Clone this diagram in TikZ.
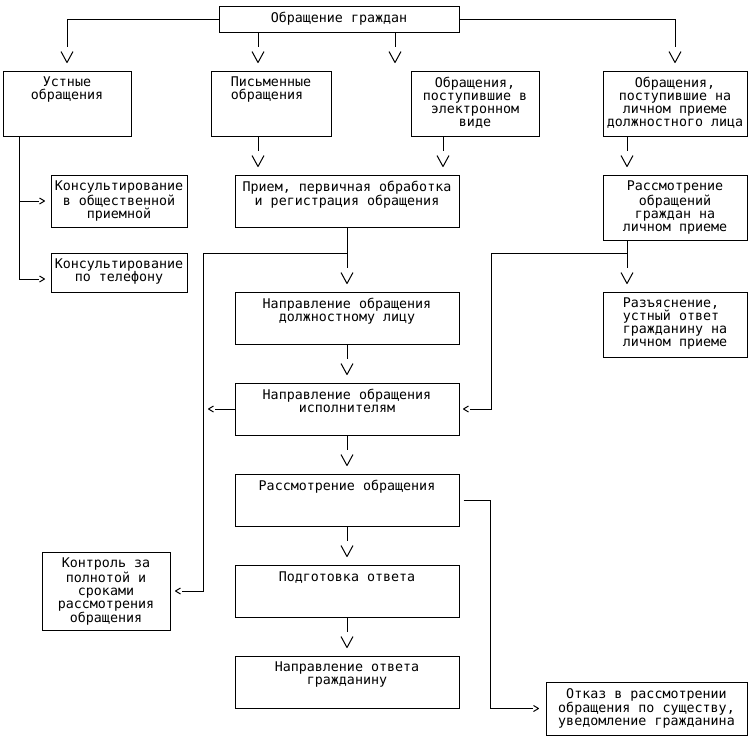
\documentclass[tikz,border=0pt]{standalone}
\usepackage{fontspec}
\newfontfamily\monof{DejaVu Sans Mono}
\usetikzlibrary{fit,calc,arrows.meta}
\pgfdeclarearrow{
  name = GapV,
  setup code = {
    \pgfarrowssettipend{0pt}
    \pgfarrowssetlineend{-12pt}
    \pgfarrowssetvisualbackend{-8.25pt}
    \pgfarrowssetbackend{-12pt}
    \pgfarrowshullpoint{0pt}{0pt}
    \pgfarrowsupperhullpoint{-8.25pt}{4.5pt}
  },
  drawing code = {
    \pgfsetdash{}{0pt}
    \pgfsetroundjoin
    \pgfpathmoveto{\pgfqpoint{-8.25pt}{4.5pt}}
    \pgfpathlineto{\pgfqpoint{0pt}{0pt}}
    \pgfpathlineto{\pgfqpoint{-8.25pt}{-4.5pt}}
    \pgfusepathqstroke
  },
  parameters = {},
}
\pgfdeclarearrow{
  name = GapH,
  setup code = {
    \pgfarrowssettipend{0pt}
    \pgfarrowssetlineend{-4.5pt}
    \pgfarrowssetvisualbackend{-3.75pt}
    \pgfarrowssetbackend{-4.5pt}
    \pgfarrowshullpoint{0pt}{0pt}
    \pgfarrowsupperhullpoint{-3.75pt}{2.25pt}
  },
  drawing code = {
    \pgfsetdash{}{0pt}
    \pgfsetroundjoin
    \pgfpathmoveto{\pgfqpoint{-3.75pt}{2.25pt}}
    \pgfpathlineto{\pgfqpoint{0pt}{0pt}}
    \pgfpathlineto{\pgfqpoint{-3.75pt}{-2.25pt}}
    \pgfusepathqstroke
  },
  parameters = {},
}
\tikzset{
  box/.style={draw=black, line width=0.75pt, inner sep=0pt},
  txt/.style={anchor=north, inner sep=0pt, align=center, yshift=-4.75pt,
    font=\monof\fontsize{10pt}{9.75pt}\selectfont,
    execute at begin node={\rule{0pt}{8pt}}},
  conn/.style={line width=0.75pt, draw=black},
  va/.style={conn, -{GapV}, shorten >=6pt},
  ha/.style={conn, -{GapH}},
}
\begin{document}
\begin{tikzpicture}[x=0.75pt,y=-0.75pt]
\useasboundingbox (0,0) rectangle (754,740);
% boxes
\node[box, fit={(219,6) (459,32)}] (top) {};
\node[box, fit={(3,71) (131,136)}] (oral) {};
\node[box, fit={(211,71) (331,136)}] (pis) {};
\node[box, fit={(411,71) (539,136)}] (el) {};
\node[box, fit={(603,71) (747,136)}] (lich) {};
\node[box, fit={(51,175) (187,227)}] (kons1) {};
\node[box, fit={(51,253) (187,292)}] (kons2) {};
\node[box, fit={(235,175) (459,227)}] (priem) {};
\node[box, fit={(603,175) (747,240)}] (rassml) {};
\node[box, fit={(603,292) (747,357)}] (razj) {};
\node[box, fit={(235,292) (459,344)}] (dolzh) {};
\node[box, fit={(235,383) (459,435)}] (isp) {};
\node[box, fit={(235,474) (459,526)}] (rassm) {};
\node[box, fit={(235,565) (459,617)}] (podg) {};
\node[box, fit={(235,656) (459,708)}] (napr) {};
\node[box, fit={(42,552) (170,630)}] (kontr) {};
\node[box, fit={(546,682) (747,735)}] (otkaz) {};
% texts
\node[txt] (topT) at (top.north) {Обращение граждан};
\node[txt] (oralT) at (oral.north) {Устные\\обращения};
\node[txt, align=left] (pisT) at (pis.north) {Письменные\\обращения};
\node[txt] (elT) at (el.north) {Обращения,\\поступившие в\\электронном\\виде};
\node[txt] (lichT) at (lich.north) {Обращения,\\поступившие на\\личном приеме\\должностного лица};
\node[txt] (kons1T) at (kons1.north) {Консультирование\\в общественной\\приемной};
\node[txt] (kons2T) at (kons2.north) {Консультирование\\по телефону};
\node[txt] (priemT) at (priem.north) {Прием, первичная обработка\\и регистрация обращения};
\node[txt] (rassmlT) at (rassml.north) {Рассмотрение\\обращений\\граждан на\\личном приеме};
\node[txt, align=left] (razjT) at (razj.north) {Разъяснение,\\устный ответ\\гражданину на\\личном приеме};
\node[txt] (dolzhT) at (dolzh.north) {Направление обращения\\должностному лицу};
\node[txt] (ispT) at (isp.north) {Направление обращения\\исполнителям};
\node[txt] (rassmT) at (rassm.north) {Рассмотрение обращения};
\node[txt] (podgT) at (podg.north) {Подготовка ответа};
\node[txt] (naprT) at (napr.north) {Направление ответа\\гражданину};
\node[txt] (kontrT) at (kontr.north) {Контроль за\\полнотой и\\сроками\\рассмотрения\\обращения};
\node[txt] (otkazT) at (otkaz.north) {Отказ в рассмотрении\\обращения по существу,\\уведомление гражданина};
% coordinates
\coordinate (t2) at ($(top.south)+(-81,0)$);
\coordinate (t3) at ($(top.south)+(56,0)$);
\coordinate (p1) at ($(pis.south)+(-13,0)$);
\coordinate (e1) at ($(el.south)+(-32,0)$);
\coordinate (l1) at ($(lich.south)+(-48,0)$);
\coordinate (o1) at ($(oral.south)+(-48,0)$);
\coordinate (k2w) at ($(kons2.west)+(0,6.5)$);
\coordinate (j1) at ($(priem.south)+(0,26)$);
\coordinate (k1) at ($(kontr.east)+(33,0)$);
\coordinate (r1) at ($(rassml.south)+(-48,0)$);
\coordinate (r2) at ($(r1)+(0,13)$);
\coordinate (r3) at ($(isp.east)+(32,0)$);
\coordinate (q1) at ($(rassm.east)+(4,0)$);
\coordinate (q2) at ($(otkaz.west)+(-55,0)$);
% connectors
\draw[va] (top.west) -| (oral.north);
\draw[va] (t2) -- (t2 |- pis.north);
\draw[va] (t3) -- (t3 |- el.north);
\draw[va] (top.east) -| (lich.north);
\draw[va] (p1) -- (p1 |- priem.north);
\draw[va] (e1) -- (e1 |- priem.north);
\draw[va] (l1) -- (l1 |- rassml.north);
\draw[ha, shorten >=4.5pt] (o1) |- (kons1.west);
\draw[ha, shorten >=4.5pt] (o1) |- (k2w);
\draw[va] (priem.south) -- (dolzh.north);
\draw[ha, shorten >=3.75pt] (j1) -| (k1) -- (kontr.east);
\draw[va] (dolzh.south) -- (isp.north);
\draw[ha, shorten >=3.75pt] (isp.west) -- (isp.west -| k1);
\draw[va] (r1) -- (r1 |- razj.north);
\draw[ha, shorten >=3pt] (r2) -| (r3) -- (isp.east);
\draw[va] (isp.south) -- (rassm.north);
\draw[va] (rassm.south) -- (podg.north);
\draw[va] (podg.south) -- (napr.north);
\draw[ha, shorten >=5.25pt] (q1) -| (q2) -- (otkaz.west);
\end{tikzpicture}
\end{document}
